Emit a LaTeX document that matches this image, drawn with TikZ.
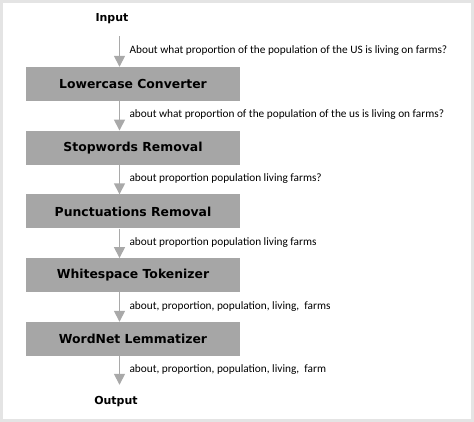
\documentclass[tikz,border=0pt]{standalone}
\usepackage{fontspec}
\setmainfont{Carlito}
\newfontfamily\headfont{DejaVu Sans}
\usetikzlibrary{shapes,arrows.meta,positioning}
\definecolor{boxgray}{HTML}{A6A6A6}
\definecolor{arrowgray}{HTML}{A9A9A9}
\definecolor{framegray}{HTML}{E4E4E4}
\tikzstyle{arrow} = [-{Triangle[width=11pt,length=11pt]}, color=arrowgray, line width=1.5pt]
\tikzstyle{block} = [rectangle, fill=boxgray, text centered, minimum width=214pt, minimum height=34pt, font=\headfont\bfseries\fontsize{12.4}{14}\selectfont]
\tikzstyle{io} = [rectangle, minimum height=34pt, inner sep=0pt, font=\headfont\bfseries\fontsize{11}{13}\selectfont]
\tikzstyle{stream} = [right, xshift=6pt, yshift=1pt, text=black, font=\fontsize{11.3}{13}\selectfont]

\begin{document}
\begin{tikzpicture}[x=1pt, y=-1pt, node distance=63.75pt]
				\useasboundingbox (0,0) rectangle (474,422);
				\draw [framegray, line width=3pt] (1.5,1.5) rectangle (472.5,420.5);
				
				% Place nodes
				\node (lowercase) [block] at (133,84) {Lowercase Converter};
				\node (stopwords) [block, below of=lowercase] {Stopwords Removal};
				\node (punctuation) [block, below of=stopwords] {Punctuations Removal};
				\node (tokenizer) [block, below of=punctuation] {Whitespace Tokenizer};
				\node (lemmatizer) [block, below of=tokenizer] {WordNet Lemmatizer};
				\node (input) [io] at (112,19) {Input};
				\node (output) [io] at (116,402) {Output};
				\coordinate (flow) at (119.5,0);
				
				% Draw arrows
				\draw [arrow] (input.south -| flow) -- node[stream] {About what proportion of the population of the US is living on farms?} (lowercase.north -| flow);
				\draw [arrow] (lowercase.south -| flow) -- node[stream] {about what proportion of the population of the us is living on farms?} (stopwords.north -| flow);
				\draw [arrow] (stopwords.south -| flow) -- node[stream] {about proportion population living farms?} (punctuation.north -| flow);
				\draw [arrow] (punctuation.south -| flow) -- node[stream] {about proportion population living farms} (tokenizer.north -| flow);
				\draw [arrow] (tokenizer.south -| flow) -- node[stream] {about, proportion, population, living,\ \ farms} (lemmatizer.north -| flow);
				\draw [arrow] (lemmatizer.south -| flow) -- node[stream] {about, proportion, population, living,\ \ farm} (output.north -| flow);

			\end{tikzpicture}
\end{document}
